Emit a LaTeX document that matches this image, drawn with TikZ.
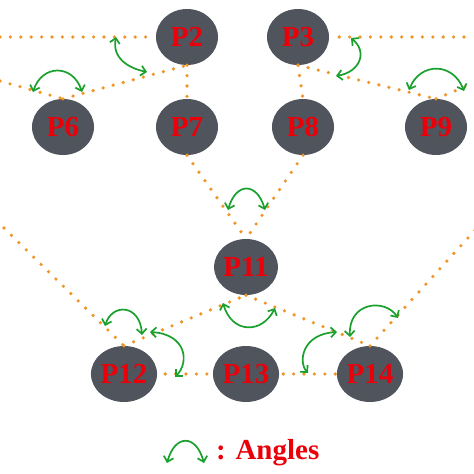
\documentclass[tikz,border=0pt]{standalone}
\usepackage{fontspec}
\setmainfont{Liberation Serif}
\usetikzlibrary{shapes.geometric,arrows.meta}
\definecolor{nodegray}{RGB}{80,84,92}
\definecolor{ptred}{RGB}{235,0,10}
\definecolor{dotorange}{RGB}{240,150,40}
\definecolor{anggreen}{RGB}{25,160,45}
\tikzset{
  pnode/.style={ellipse, fill=nodegray, inner sep=0pt, minimum width=62pt, minimum height=56pt,
    text=ptred, font=\fontsize{29}{29}\selectfont\bfseries},
  dotline/.style={dotorange, line width=3.6pt, line cap=round, dash pattern=on 0pt off 10.4pt},
  angarrow/.style={anggreen, line width=1.7pt, {Straight Barb[length=5pt,width=10pt]}-{Straight Barb[length=5pt,width=10pt]}}
}
\begin{document}
\begin{tikzpicture}[x=1pt,y=-1pt]
\useasboundingbox[fill=white] (0,0) rectangle (474,474);
% nodes
\node[pnode] (P2) at (187,37) {P2};
\node[pnode] (P3) at (298,37) {P3};
\node[pnode] (P6) at (63,127) {P6};
\node[pnode] (P7) at (187,127) {P7};
\node[pnode] (P8) at (303,127) {P8};
\node[pnode] (P9) at (436,127) {P9};
\node[pnode] (P11) at (246,267) {P11};
\node[pnode] (P12) at (124,374) {P12};
\node[pnode] (P13) at (246,374) {P13};
\node[pnode] (P14) at (370,374) {P14};
% free ends
\coordinate (L1) at (0,37);
\coordinate (L2) at (0,81);
\coordinate (R1) at (474,37);
\coordinate (R2) at (474,83);
\coordinate (L3) at (4,228);
\coordinate (R3) at (476,229);
% dotted lines
\draw[dotline] (L1) -- (P2.west);
\draw[dotline] (L2) -- (P6.north);
\draw[dotline] (P6.north) -- (P2.south);
\draw[dotline] (P2.south) -- (P7.north);
\draw[dotline] (P3.east) ++(10,0) -- (R1);
\draw[dotline] (P3.south) -- (P8.north);
\draw[dotline] (P3.south) -- (P9.north);
\draw[dotline] (P9.north) -- (R2);
\draw[dotline] (P7.south) -- (P11.north);
\draw[dotline] (P8.south) -- (P11.north);
\draw[dotline] (L3) -- (P12.north);
\draw[dotline] (P12.north) -- (P11.south);
\draw[dotline] (P11.south) -- (P14.north);
\draw[dotline] (P14.north) -- (R3);
\draw[dotline] (P12.east) ++(8,0) -- (P13.west);
\draw[dotline] (P13.east) ++(4,0) -- (P14.west);
% angle arrows
\coordinate (a1s) at (116,37);  \coordinate (a1e) at (147,72);
\coordinate (a2s) at (33,92);   \coordinate (a2e) at (82,92);
\coordinate (a3s) at (351,38);  \coordinate (a3e) at (336,76);
\coordinate (a4s) at (409,90);  \coordinate (a4e) at (464,91);
\coordinate (a5s) at (228,210); \coordinate (a5e) at (265,210);
\coordinate (a6s) at (105,326); \coordinate (a6e) at (142,335);
\coordinate (a7s) at (150,332); \coordinate (a7e) at (175,377);
\coordinate (a8s) at (223,303); \coordinate (a8e) at (275,308);
\coordinate (a9s) at (337,332); \coordinate (a9e) at (308,373);
\coordinate (a10s) at (350,337); \coordinate (a10e) at (398,318);
\coordinate (lgs) at (167,463); \coordinate (lge) at (204,463);
\draw[angarrow] (a1s) .. controls (112,58) and (128,68) .. (a1e);
\draw[angarrow] (a2s) .. controls (42,64) and (73,64) .. (a2e);
\draw[angarrow] (a3s) .. controls (368,52) and (360,72) .. (a3e);
\draw[angarrow] (a4s) .. controls (420,62) and (453,62) .. (a4e);
\draw[angarrow] (a5s) .. controls (236,182) and (257,182) .. (a5e);
\draw[angarrow] (a6s) .. controls (112,303) and (140,304) .. (a6e);
\draw[angarrow] (a7s) .. controls (186,334) and (190,362) .. (a7e);
\draw[angarrow] (a8s) .. controls (232,334) and (262,334) .. (a8e);
\draw[angarrow] (a9s) .. controls (302,334) and (298,362) .. (a9e);
\draw[angarrow] (a10s) .. controls (348,302) and (385,298) .. (a10e);
% legend
\draw[angarrow] (lgs) .. controls (175,434) and (196,434) .. (lge);
\node[anchor=west, text=ptred, font=\fontsize{29}{29}\selectfont\bfseries, inner sep=0pt] (leg) at (216,453) {: Angles};
\end{tikzpicture}
\end{document}
